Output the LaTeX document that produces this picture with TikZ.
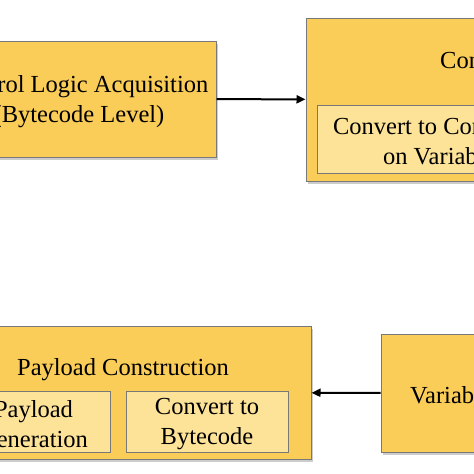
\documentclass[tikz,border=0pt]{standalone}
\usepackage{fontspec}
\setmainfont{Liberation Serif}
\usetikzlibrary{arrows.meta, positioning, shadows}
\definecolor{boxgold}{RGB}{250,204,88}
\definecolor{boxlight}{RGB}{253,227,152}
\definecolor{boxedge}{RGB}{120,120,120}

\begin{document}
\begin{tikzpicture}[
    x=1pt, y=-1pt,
    >={Triangle[length=9pt, width=8pt]},
    outer/.style={draw=boxedge, line width=1pt, fill=boxgold, inner sep=0pt,
        drop shadow={shadow xshift=2pt, shadow yshift=-2.5pt, opacity=0.4}},
    inner/.style={draw=boxedge, line width=0.8pt, fill=boxlight, inner sep=0pt},
    label/.style={font=\fontsize{24.5}{30}\selectfont, align=center, inner sep=0pt},
    flow/.style={->, line width=2pt, black},
]
    \useasboundingbox (0,0) rectangle (474,474);
    \clip (0,0) rectangle (474,474);

    % Control logic acquisition
    \node[outer, minimum width=274pt, minimum height=116pt] (acq) at (79,99) {};
    \node[label] (acqT) at (79,102) {Control Logic Acquisition\\(Bytecode Level)};

    % Constraint box (top right)
    \node[outer, minimum width=284pt, minimum height=163pt] (cons) at (448,99.5) {};
    \node[label, anchor=west] (consT) at (440,63) {Constraint Solving};
    \node[inner, minimum width=270pt, minimum height=68pt] (conv) at (452,139) {};
    \node[label] (convT) at (444,142) {Convert to Constraints\\on Variables};

    % Variable box (bottom right)
    \node[outer, minimum width=180pt, minimum height=118pt] (var) at (471,393) {};
    \node[label, anchor=west] (varT) at (410,395) {Variable Extraction};

    % Payload construction
    \node[outer, minimum width=377pt, minimum height=133pt] (pay) at (122.5,392.5) {};
    \node[label] (payT) at (123,370) {Payload Construction};
    \node[inner, minimum width=153pt, minimum height=61pt] (gen) at (33.5,421.5) {};
    \node[label] (genT) at (33.5,424) {Payload\\Generation};
    \node[inner, minimum width=162pt, minimum height=61pt] (byte) at (207,421.5) {};
    \node[label] (byteT) at (207,424) {Convert to\\Bytecode};

    % Arrows
    \draw[flow] (acq) -- (cons);
    \draw[flow] (var) -- (pay);
\end{tikzpicture}
\end{document}
